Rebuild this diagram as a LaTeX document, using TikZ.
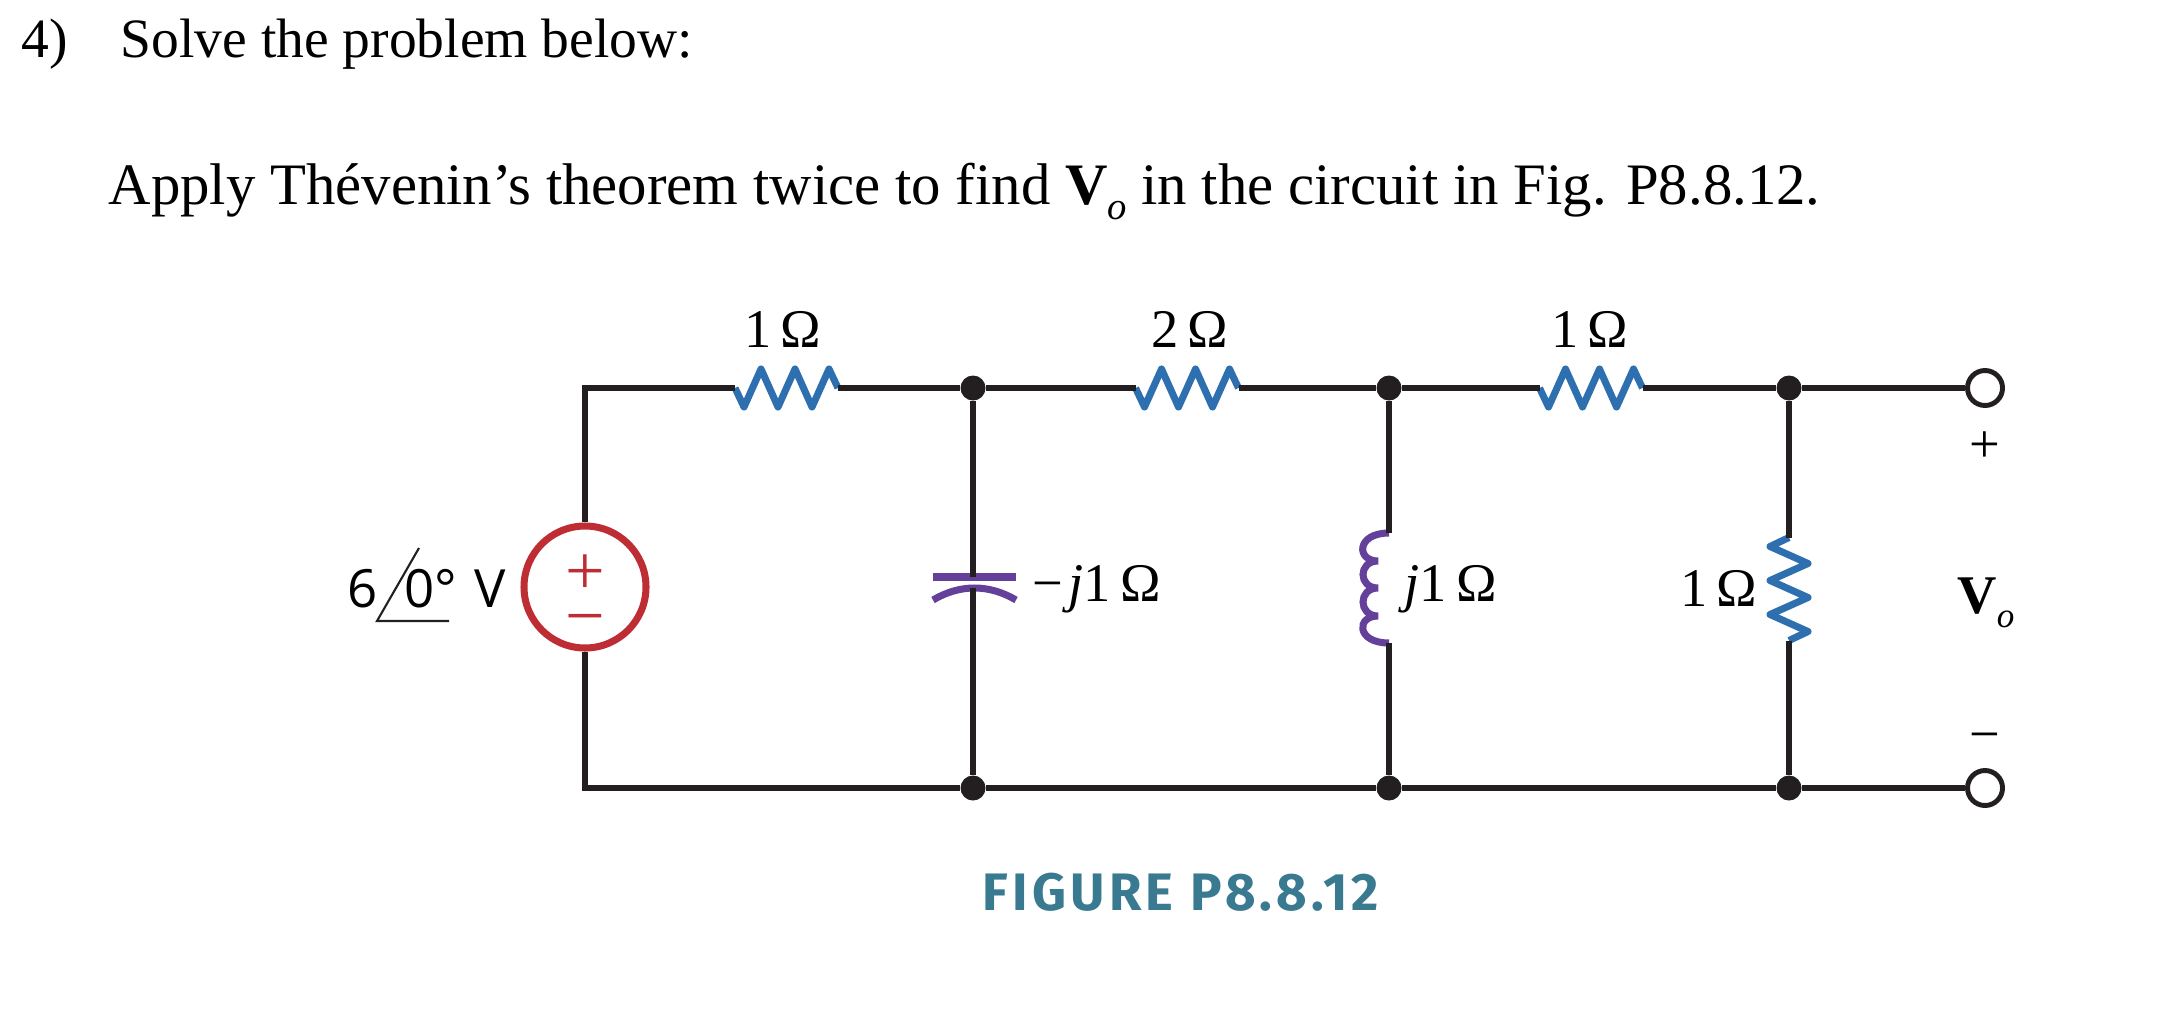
\documentclass[tikz,border=0pt]{standalone}
\usepackage{fontspec}
\usepackage{xcolor}
\setmainfont{Liberation Serif}
\newfontfamily\srcfont{Open Sans}
\newfontfamily\figfont[LetterSpace=8]{Fira Sans}
\usetikzlibrary{positioning,calc}

\definecolor{wirecol}{HTML}{231F20}
\definecolor{rescol}{HTML}{2E6FB0}
\definecolor{reactcol}{HTML}{64409A}
\definecolor{srccol}{HTML}{BE2D33}
\definecolor{figcol}{HTML}{3A7A90}

\newcommand{\Vout}[1]{\textbf{V}\raisebox{-0.26em}{\fontsize{#1}{10}\selectfont\textit{o}}}

\tikzset{
    wire/.style={line width=1.8pt,draw=wirecol},
    dot/.style={circle,fill=wirecol,inner sep=0pt,minimum size=0.25cm},
    term/.style={circle,draw=wirecol,fill=white,line width=1.4pt,inner sep=0pt,minimum size=0.35cm},
    lab/.style={anchor=base,inner sep=0pt,font=\fontsize{15.5}{18}\selectfont},
    labw/.style={lab,anchor=base west},
    resline/.style={line width=2pt,draw=rescol,line join=round},
    reactline/.style={line width=2pt,draw=reactcol},
    resis/.pic={
        \draw[resline] (-0.515,0) coordinate (-a) -- (-0.425,-0.19) -- (-0.255,0.19) -- (-0.085,-0.19)
            -- (0.085,0.19) -- (0.255,-0.19) -- (0.425,0.19) -- (0.515,0) coordinate (-b);
    }
}

\begin{document}
\begin{tikzpicture}
    \useasboundingbox (0,0) rectangle (21.74,-10.16);

    % Problem text
    \node[labw,font=\fontsize{15.8}{18}\selectfont] (num) at (0.21,-0.57) {4)};
    \node[labw,font=\fontsize{15.8}{18}\selectfont] (task) at (1.20,-0.57) {Solve the problem below:};
    \node[labw,font=\fontsize{16.72}{18}\selectfont] (text) at (1.08,-2.04) {Apply Thévenin’s theorem twice to find \Vout{11} in the circuit in Fig. P8.8.12.};

    % Junctions and terminals
    \node[dot] (ta) at (9.73,-3.88) {};
    \node[dot] (tb) at (13.89,-3.88) {};
    \node[dot] (tc) at (17.89,-3.88) {};
    \node[dot] (ba) at (9.73,-7.88) {};
    \node[dot] (bb) at (13.89,-7.88) {};
    \node[dot] (bc) at (17.89,-7.88) {};
    \node[term] (tout) at (19.85,-3.88) {};
    \node[term] (bout) at (19.85,-7.88) {};

    % Source
    \node[circle,draw=srccol,line width=2pt,minimum size=1.22cm,inner sep=0pt] (src) at (5.85,-5.87) {};
    \node[align=center,inner sep=0pt,text=srccol,font=\fontsize{20}{13}\selectfont] (srcsign) at (5.85,-5.97) {+\\−};

    % Source label
    \node[lab,font=\fontsize{15}{18}\srcfont] (six) at (3.63,-6.07) {6};
    \node[labw,font=\fontsize{15}{18}\srcfont] (phase) at (4.04,-6.07) {0°\,\,V};
    \coordinate (angt) at (4.19,-5.48);
    \coordinate (angl) at (3.77,-6.21);
    \coordinate (angr) at (4.49,-6.21);
    \draw[line width=0.6pt,draw=wirecol] (angt) -- (angl) -- (angr);

    % Series resistors
    \pic (rone) at (7.865,-3.88) {resis};
    \pic (rtwo) at (11.87,-3.88) {resis};
    \pic (rthree) at (15.91,-3.88) {resis};
    \node[lab] (rlabone) at (7.83,-3.47) {1\,Ω};
    \node[lab] (rlabtwo) at (11.90,-3.47) {2\,Ω};
    \node[lab] (rlabthree) at (15.90,-3.47) {1\,Ω};

    % Capacitor
    \coordinate (capa) at (9.73,-5.77);
    \coordinate (capb) at (9.73,-5.88);
    \draw[reactline] (9.33,-5.77) -- (10.16,-5.77);
    \draw[reactline] (9.33,-6.00) .. controls (9.60,-5.84) and (9.89,-5.84) .. (10.16,-6.00);
    \node[labw] (caplab) at (10.32,-6.01) {−\kern1.5pt\textit{j}1\,Ω};

    % Inductor
    \coordinate (inda) at (13.89,-5.33);
    \coordinate (indb) at (13.89,-6.43);
    \draw[reactline] (inda) .. controls (13.56,-5.33) and (13.56,-5.61) .. (13.78,-5.61)
        .. controls (13.58,-5.61) and (13.58,-5.88) .. (13.78,-5.88)
        .. controls (13.58,-5.88) and (13.58,-6.16) .. (13.78,-6.16)
        .. controls (13.56,-6.16) and (13.56,-6.43) .. (indb);
    \node[labw] (indlab) at (14.04,-6.01) {\textit{j}1\,Ω};

    % Shunt resistor
    \pic[rotate=-90] (rfour) at (17.89,-5.89) {resis};
    \node[lab] (rlabfour) at (17.19,-6.06) {1\,Ω};

    % Output
    \node[lab] (vplus) at (19.85,-4.62) {+};
    \node[lab] (vo) at (19.86,-6.13) {\Vout{10}};
    \node[lab] (vminus) at (19.85,-7.52) {−};

    % Figure caption
    \node[labw,text=figcol,font=\fontsize{15}{18}\figfont\bfseries] (cap) at (9.82,-9.10) {FIGURE P8.8.12};

    % Wires
    \draw[wire] (src.north) |- (rone-a);
    \draw[wire] (rone-b) -- (ta) -- (rtwo-a);
    \draw[wire] (rtwo-b) -- (tb) -- (rthree-a);
    \draw[wire] (rthree-b) -- (tc) -- (tout);
    \draw[wire] (src.south) |- (ba) -- (bb) -- (bc) -- (bout);
    \draw[wire] (ta) -- (capa);
    \draw[wire] (capb) -- (ba);
    \draw[wire] (tb) -- (inda);
    \draw[wire] (indb) -- (bb);
    \draw[wire] (tc) -- (rfour-a);
    \draw[wire] (rfour-b) -- (bc);
\end{tikzpicture}
\end{document}
